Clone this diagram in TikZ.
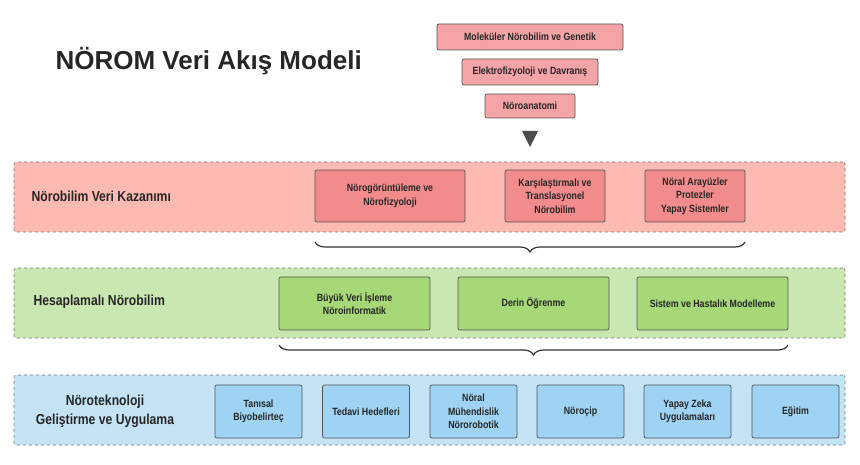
\documentclass[tikz,border=0pt]{standalone}
\usepackage{fontspec}
\setmainfont{Liberation Sans}
\newfontfamily\narrowf{Liberation Sans}[FakeStretch=0.84]
\usetikzlibrary{decorations.pathreplacing}
\definecolor{bandR}{HTML}{FDBAB2}
\definecolor{bandG}{HTML}{C9E7B1}
\definecolor{bandB}{HTML}{C4E4F6}
\definecolor{boxR}{HTML}{F28C8C}
\definecolor{boxT}{HTML}{F4A3A6}
\definecolor{boxG}{HTML}{A7D877}
\definecolor{boxB}{HTML}{9FD3F3}
\definecolor{edge}{HTML}{555555}
\tikzset{
 band/.style={draw=edge!80, dashed, line width=0.6pt, rounded corners=2pt, minimum height=70pt, minimum width=831pt, inner sep=0pt},
 box/.style={draw=edge, line width=0.7pt, rounded corners=2pt, align=center, inner sep=1pt, font=\narrowf\fontsize{10.5}{13.5}\selectfont\bfseries, text=black!85},
 lab/.style={font=\narrowf\fontsize{14.5}{19}\selectfont\bfseries, text=black!85, align=center},
 br/.style={decorate, decoration={brace, amplitude=10pt, mirror}, draw=black!80, line width=1.2pt}
}
\begin{document}
\begin{tikzpicture}[x=1pt,y=-1pt]
\useasboundingbox (0,0) rectangle (860,465);
\node[font=\fontsize{26}{31}\selectfont\bfseries, text=black!85, anchor=west] (title) at (52,61) {NÖROM Veri Akış Modeli};
% top
\node[box, fill=boxT, minimum width=186pt, minimum height=26pt] (t1) at (530,37) {Moleküler Nörobilim ve Genetik};
\node[box, fill=boxT, minimum width=136pt, minimum height=26pt] (t2) at (530,72) {Elektrofizyoloji ve Davranış};
\node[box, fill=boxT, minimum width=90pt, minimum height=24pt] (t3) at (530,106) {Nöroanatomi};
\fill[black!70] (522,131) -- (538,131) -- (530,147) -- cycle;
% bands
\node[band, fill=bandR] (b1) at (429.5,197) {};
\node[band, fill=bandG] (b2) at (429.5,303) {};
\node[band, fill=bandB] (b3) at (429.5,410) {};
\node[lab, anchor=west] (l1) at (28,196) {Nörobilim Veri Kazanımı};
\node[lab, anchor=west] (l2) at (30,302) {Hesaplamalı Nörobilim};
\node[lab] (l3) at (105,411) {Nöroteknoloji\\Geliştirme ve Uygulama};
% band1 boxes
\node[box, fill=boxR, minimum width=150pt, minimum height=52pt] (r1) at (390,196) {Nörogörüntüleme ve\\Nörofizyoloji};
\node[box, fill=boxR, minimum width=100pt, minimum height=52pt] (r2) at (555,196) {Karşılaştırmalı ve\\Translasyonel\\Nörobilim};
\node[box, fill=boxR, minimum width=100pt, minimum height=52pt] (r3) at (695,196) {Nöral Arayüzler\\Protezler\\Yapay Sistemler};
\draw[br] (315,242) -- (745,242);
% band2 boxes
\node[box, fill=boxG, minimum width=151pt, minimum height=53pt] (g1) at (354.5,303.5) {Büyük Veri İşleme\\Nöroinformatik};
\node[box, fill=boxG, minimum width=151pt, minimum height=53pt] (g2) at (533.5,303.5) {Derin Öğrenme};
\node[box, fill=boxG, minimum width=151pt, minimum height=53pt] (g3) at (712.5,303.5) {Sistem ve Hastalık Modelleme};
\draw[br] (279,345) -- (788,345);
% band3 boxes
\foreach \n/\x/\t in {u1/258.5/{Tanısal\\Biyobelirteç}, u2/366/{Tedavi Hedefleri}, u3/473.5/{Nöral\\Mühendislik\\Nörorobotik}, u4/580.5/{Nöroçip}, u5/687.5/{Yapay Zeka\\Uygulamaları}, u6/795.5/{Eğitim}}
  \node[box, fill=boxB, minimum width=87pt, minimum height=53pt] (\n) at (\x,411.5) {\t};
\end{tikzpicture}
\end{document}
